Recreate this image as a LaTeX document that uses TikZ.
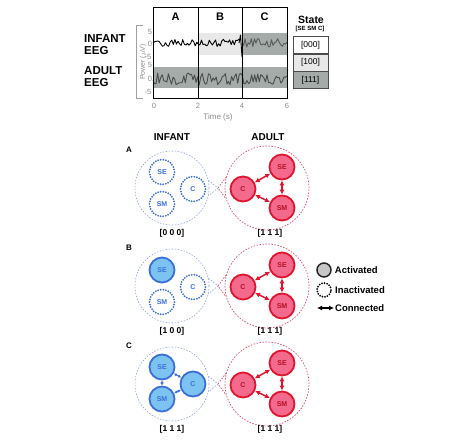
\documentclass[tikz,border=0pt]{standalone}
\usepackage{fontspec}
\setmainfont{Liberation Sans}
\usetikzlibrary{arrows.meta, positioning, calc}
\definecolor{infantblue}{HTML}{3A6FD8}
\definecolor{infantfill}{HTML}{7CC3F2}
\definecolor{infantzone}{HTML}{8EA2E0}
\definecolor{adultred}{HTML}{E0142E}
\definecolor{adultfill}{HTML}{F46A8C}
\definecolor{adultzone}{HTML}{E04A6A}
\definecolor{bandlight}{HTML}{E8E8E8}
\definecolor{banddark}{HTML}{A4ABA9}
\definecolor{axisgray}{HTML}{8A8A8A}
\tikzset{
    eeg label/.style={font=\bfseries\fontsize{11.5}{12.5}\selectfont, anchor=west, align=left, inner sep=0pt},
    tick label/.style={font=\fontsize{7.5}{8}\selectfont, text=axisgray, inner sep=0pt},
    state box/.style={draw=black!70, line width=0.6pt, minimum width=35pt, minimum height=17pt, inner sep=0pt, font=\fontsize{8.5}{9}\selectfont},
    trace/.style={line width=0.9pt, line join=round},
    head label/.style={font=\bfseries\fontsize{10}{11}\selectfont, inner sep=0pt},
    code label/.style={font=\bfseries\fontsize{8.5}{9}\selectfont, inner sep=0pt},
    infant zone/.style={circle, draw=infantzone, line width=0.6pt, dash pattern=on 1.5pt off 1.5pt, minimum size=74pt, inner sep=0pt},
    adult zone/.style={circle, draw=adultzone, line width=0.7pt, dash pattern=on 1.5pt off 1.5pt, minimum size=84pt, inner sep=0pt},
    infant on/.style={circle, draw=infantblue, fill=infantfill, line width=1.8pt, minimum size=25pt, inner sep=0pt, text=infantblue, font=\bfseries\fontsize{7}{7}\selectfont},
    infant off/.style={circle, draw=infantblue, dash pattern=on 0pt off 2.6pt, line cap=round, line width=2pt, minimum size=25pt, inner sep=0pt, text=infantblue, font=\bfseries\fontsize{7}{7}\selectfont},
    adult on/.style={circle, draw=adultred, fill=adultfill, line width=1.8pt, minimum size=25pt, inner sep=0pt, text=adultred!80!black, font=\bfseries\fontsize{7}{7}\selectfont},
    adult link/.style={{Latex[length=5pt,width=5pt]}-{Latex[length=5pt,width=5pt]}, adultred, line width=1.5pt},
    infant link/.style={{Latex[length=3.2pt,width=3.2pt]}-{Latex[length=3.2pt,width=3.2pt]}, infantblue, line width=1pt},
    legend text/.style={font=\bfseries\fontsize{9.5}{10}\selectfont, anchor=west, inner sep=0pt}
}

\begin{document}
\begin{tikzpicture}[x=1pt, y=-1pt]
    \useasboundingbox (0,0) rectangle (474,445);

    % EEG bands
    \fill[bandlight] (198,33) rectangle (242,55);
    \fill[banddark] (242,33) rectangle (287,55);
    \fill[banddark] (153,67) rectangle (287,88);

    % EEG traces
    \pgfmathsetseed{11}
    \draw[trace, black] plot[domain=153:239, samples=56] (\x, {43+4*rand});
    \draw[trace, black] (239,43) -- (240.5,35) -- (242,57);
    \draw[trace, black!65] plot[domain=242:287, samples=30] (\x, {43+4.5*rand});
    \draw[trace, black!70] plot[domain=153:287, samples=88] (\x, {79+6*rand});

    % Frame and epochs
    \node[draw, line width=0.9pt, minimum width=134pt, minimum height=91pt, inner sep=0pt] (frame) at (220,52.5) {};
    \coordinate (ep2) at (198,7);
    \coordinate (ep4) at (242,7);
    \draw[line width=0.9pt] (ep2) -- (ep2 |- frame.south);
    \draw[line width=0.9pt] (ep4) -- (ep4 |- frame.south);
    \node[head label, font=\bfseries\fontsize{11}{11}\selectfont] (epA) at (175.5,17) {A};
    \node[head label, font=\bfseries\fontsize{11}{11}\selectfont] (epB) at (220,17) {B};
    \node[head label, font=\bfseries\fontsize{11}{11}\selectfont] (epC) at (264.5,17) {C};

    % Axes
    \draw[axisgray!80, line width=0.8pt] (143,25) -- (136,25) -- (136,98) -- (143,98);
    \node[tick label, rotate=90, font=\fontsize{7}{7}\selectfont] (ylab) at (143,62) {Power ($\mu$V)};
    \node[tick label] (y1) at (150,32) {5};
    \node[tick label] (y2) at (150,44) {0};
    \node[tick label] (y3) at (148,57) {-5};
    \node[tick label] (y4) at (150,65) {5};
    \node[tick label] (y5) at (150,79) {0};
    \node[tick label] (y6) at (148,92) {-5};
    \node[tick label] (x0) at (154,106) {0};
    \node[tick label] (x2) at (198,106) {2};
    \node[tick label] (x4) at (242,106) {4};
    \node[tick label] (x6) at (287,106) {6};
    \node[tick label, font=\fontsize{8}{8}\selectfont] (xlab) at (218,117) {Time (s)};

    % Group labels
    \node[eeg label] (infeeg) at (84,44.5) {INFANT\\EEG};
    \node[eeg label] (adueeg) at (84,76.5) {ADULT\\EEG};

    % State table
    \node[font=\bfseries\fontsize{10.5}{11}\selectfont, inner sep=0pt] (state) at (311,20) {State};
    \node[font=\bfseries\fontsize{6}{7}\selectfont, inner sep=0pt] (order) at (310,29) {[SE SM C]};
    \node[state box, fill=white] (s0) at (310.5,45) {[000]};
    \node[state box, fill=bandlight, below=0pt of s0] (s1) {[100]};
    \node[state box, fill=banddark, below=0pt of s1] (s2) {[111]};

    % Column heads
    \node[head label] (hinf) at (172,137) {INFANT};
    \node[head label] (hadu) at (268,137) {ADULT};

    % Panels
    \foreach \p/\dy in {A/0, B/98, C/196} {
        \begin{scope}[shift={(0,\dy)}]
            \node[code label, font=\bfseries\fontsize{8}{9}\selectfont] (pl\p) at (129,150) {\p};
            \node[infant zone] (iz\p) at (172,188) {};
            \node[adult zone] (az\p) at (267,188) {};
            \coordinate (tip\p) at (218,188);
            \draw[infantzone, line width=0.6pt, dash pattern=on 1.5pt off 1.5pt] (iz\p.12) -- (tip\p) -- (iz\p.-12);
            \draw[adultzone, line width=0.7pt, dash pattern=on 1.5pt off 1.5pt] (az\p.165) -- (tip\p) -- (az\p.195);
            % Adult network
            \node[adult on] (aSE\p) at (282,167) {SE};
            \node[adult on] (aC\p) at (243,189) {C};
            \node[adult on] (aSM\p) at (282,208) {SM};
            \draw[adult link] (aC\p) -- (aSE\p);
            \draw[adult link] (aC\p) -- (aSM\p);
            \draw[adult link] (aSE\p) -- (aSM\p);
            \node[code label] (ac\p) at (270,233) {[1 1 1]};
        \end{scope}
    }

    % Infant A
    \node[infant off] (iSEA) at (162,172) {SE};
    \node[infant off] (iCA) at (193,189) {C};
    \node[infant off] (iSMA) at (162,204) {SM};
    \node[code label] (icA) at (172,233) {[0 0 0]};

    % Infant B
    \node[infant on] (iSEB) at (162,270) {SE};
    \node[infant off] (iCB) at (193,287) {C};
    \node[infant off] (iSMB) at (162,302) {SM};
    \node[code label] (icB) at (172,331) {[1 0 0]};

    % Infant C
    \node[infant on] (iSEC) at (162,367) {SE};
    \node[infant on] (iCC) at (193,384) {C};
    \node[infant on] (iSMC) at (162,399) {SM};
    \draw[infant link] (iSEC) -- (iSMC);
    \draw[infant link] (iSEC) -- (iCC);
    \draw[infant link] (iSMC) -- (iCC);
    \node[code label] (icC) at (172,429) {[1 1 1]};

    % Legend
    \node[circle, draw=black!85, fill=black!22, line width=1.5pt, minimum size=14pt, inner sep=0pt] (lgon) at (324,270) {};
    \node[legend text, right=3pt of lgon] (lgont) {Activated};
    \node[circle, draw=black, dash pattern=on 0pt off 2.6pt, line cap=round, line width=2pt, minimum size=14pt, inner sep=0pt] (lgoff) at (324,290) {};
    \node[legend text, right=3pt of lgoff] (lgofft) {Inactivated};
    \coordinate (lgl) at (317,308);
    \coordinate (lgr) at (334,308);
    \draw[{Latex[length=5pt,width=5pt]}-{Latex[length=5pt,width=5pt]}, line width=1.4pt] (lgl) -- (lgr);
    \node[legend text, right=1pt of lgr] (lgct) {Connected};
\end{tikzpicture}
\end{document}
